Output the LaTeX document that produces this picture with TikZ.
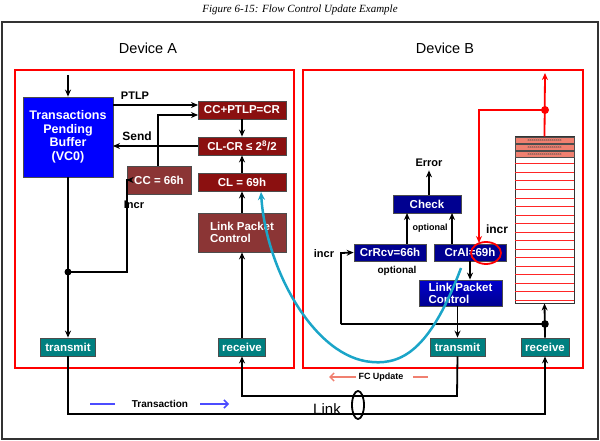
\documentclass[tikz,border=0pt]{standalone}
\usepackage{fontspec}
\setmainfont{Liberation Serif}
\newfontfamily\sff{Liberation Sans}
\usetikzlibrary{arrows.meta}
\definecolor{dred}{HTML}{8B1010}
\definecolor{bred}{HTML}{8B3535}
\definecolor{dblue}{HTML}{000090}
\definecolor{teal2}{HTML}{008080}
\definecolor{salm}{HTML}{F08070}
\definecolor{cyan2}{HTML}{1BA5C8}
\begin{document}
\begin{tikzpicture}[x=1pt,y=-1pt,
 box/.style={draw=black!70,line width=0.8pt,text=white,font=\sff\bfseries\fontsize{11.5}{12}\selectfont,inner sep=0pt,align=center},
 arr/.style={-{Stealth[length=7pt,width=6pt]},line width=1.8pt},
 ln/.style={line width=1.8pt},
 lbl/.style={font=\sff\bfseries\fontsize{11}{12}\selectfont}]
\useasboundingbox (0,0) rectangle (600,441);
\node (title) at (300,10) {\itshape\fontsize{11}{12}\selectfont Figure 6-15: Flow Control Update Example};
\draw[black!80,line width=1.5pt] (2,22) rectangle (598,439);
\draw[red,line width=1.6pt] (15,70) rectangle (294,368);
\draw[red,line width=1.6pt] (303,70) rectangle (583,368);
\node[font=\sff\fontsize{14.5}{16}\selectfont] (da) at (148,48) {Device A};
\node[font=\sff\fontsize{14.5}{16}\selectfont] (db) at (445,48) {Device B};
% Device A
\node[box,fill=blue,minimum width=90,minimum height=80,font=\sff\bfseries\fontsize{12.5}{13.5}\selectfont] (tpb) at (68,137) {Transactions\\Pending\\Buffer\\(VC0)};
\node[box,fill=dred,minimum width=88,minimum height=18] (cr) at (242,110) {CC+PTLP=CR};
\node[box,fill=dred,minimum width=88,minimum height=18] (clcr) at (242,146) {CL-CR ≤ 2\textsuperscript{8}/2};
\node[box,fill=dred,minimum width=88,minimum height=18] (cl) at (242,182) {CL = 69h};
\node[box,fill=bred,minimum width=64,minimum height=28] (cc) at (159,180) {CC = 66h};
\node[box,fill=bred,minimum width=88,minimum height=39,align=left] (lpa) at (242,232.5) {Link Packet\\Control};
\node[box,fill=teal2,minimum width=55,minimum height=18] (txa) at (68,347) {transmit};
\node[box,fill=teal2,minimum width=47,minimum height=18] (rxa) at (242,347) {receive};
\coordinate (ina) at (68,75);
\draw[arr] (ina) -- (tpb.north);
\coordinate (dota) at (68,272);
\draw[arr] (tpb.south) -- (txa.north);
\fill (dota) circle (3.5);
\draw[arr] (dota) -- (127,272) -- (127,180) -- (cc.west);
\node[lbl] at (134,205) {Incr};
\draw[arr] (158,166) -- (158,115) -- (198,115);
\draw[arr] (113,105) -- (198,105);
\node[lbl] at (135,96) {PTLP};
\draw[arr] (cr) -- (clcr);
\draw[arr] (clcr.west) -- (113,146);
\node[lbl,font=\sff\bfseries\fontsize{12}{12}\selectfont] at (137,136) {Send};
\draw[arr] (cl) -- (clcr);
\draw[arr] (lpa) -- (cl);
\draw[arr] (rxa) -- (lpa);
% Device B
\node[box,fill=dblue,minimum width=68,minimum height=18] (chk) at (427,204) {Check};
\node[box,fill=dblue,minimum width=72,minimum height=17] (crr) at (390,252.5) {CrRcv=66h};
\node[box,fill=dblue,minimum width=72,minimum height=17] (cra) at (470,252.5) {CrAl=69h};
\node[box,fill=dblue,minimum width=83,minimum height=26,top color=blue!55!dblue,bottom color=dblue,align=left] (lpb) at (460.5,293) {Link Packet\\Control};
\node[box,fill=teal2,minimum width=55,minimum height=18] (txb) at (457.5,347) {transmit};
\node[box,fill=teal2,minimum width=48,minimum height=18] (rxb) at (545,347) {receive};
\node[lbl] (err) at (429,163) {Error};
\draw[arr] (chk.north -| err) -- (err.south);
\draw[arr] (407,244) -- (407,213);
\draw[arr] (452,244) -- (452,213);
\node[font=\sff\bfseries\fontsize{9}{10}\selectfont] at (430,228) {optional};
\node[font=\sff\bfseries\fontsize{10}{10}\selectfont] at (397,271) {optional};
\node[lbl] at (324,254) {incr};
\draw[arr] (cra.south) -- (lpb.north -| cra.south);
\draw[arr] (lpb.south -| txb) -- (txb.north);
% buffer
\node[draw=black!80,fill=white,line width=1pt,minimum width=59,minimum height=166,inner sep=0] (buf) at (544.5,220) {};
\foreach \y in {137,144,151}{
  \draw[fill=salm,draw=black!70] (515,\y) rectangle (574,\y+6);
  \node[font=\sff\fontsize{4}{4}\selectfont,text=black!70] at (544.5,\y+3) {xxxxxxxxxxxxxxxxx};}
\foreach \i in {0,...,16}{ \draw[red!85,line width=1pt] (515,{164+\i*8.5}) -- (574,{164+\i*8.5}); }
\coordinate (dotb) at (545,324);
\draw[arr] (rxb.north) -- (buf.south);
\fill (dotb) circle (3.8);
\draw[ln] (dotb) -- (341,324) ;
\draw[arr] (341,324) -- (341,253) -- (crr.west);
% red path
\coordinate (topb) at (545,73);
\coordinate (rdot) at (545,110);
\draw[red,arr] (buf.north) -- (topb);
\fill[red] (rdot) circle (4);
\draw[red,arr] (rdot) -- (479,110) -- (479,243);
\node[lbl,font=\sff\bfseries\fontsize{12}{12}\selectfont] at (497,229) {incr};
\draw[red,line width=1.8pt] (486,253) ellipse (15 and 11);
% link
\draw[arr] (txa.south) -- (68,414) -- (545,414) -- (rxb.south);
\draw[arr] (txb.south) -- (457,396) -- (242,396) -- (rxa.south);
\draw[ln] (358,405) ellipse (6 and 14);
\node[font=\sff\fontsize{15}{15}\selectfont] at (327,409) {Link};
\node[lbl,font=\sff\bfseries\fontsize{10}{10}\selectfont] at (160,404) {Transaction};
\draw[blue!70,line width=1.5pt] (90,404) -- (115,404);
\draw[blue!70,line width=1.5pt,-{Straight Barb[length=4pt,width=8pt]}] (200,404) -- (229,404);
\node[font=\sff\bfseries\fontsize{9}{9}\selectfont] at (381,377) {FC Update};
\draw[salm,line width=1.5pt,-{Straight Barb[length=4pt,width=8pt]}] (356,377) -- (329,377);
\draw[salm,line width=1.5pt] (413,377) -- (428,377);
% cyan curve
\draw[cyan2,line width=2.5pt,-{Stealth[length=8pt,width=7pt]}] (461,268) .. controls (432,345) and (405,365) .. (372,362) .. controls (315,358) and (266,270) .. (261,192);
\end{tikzpicture}
\end{document}
